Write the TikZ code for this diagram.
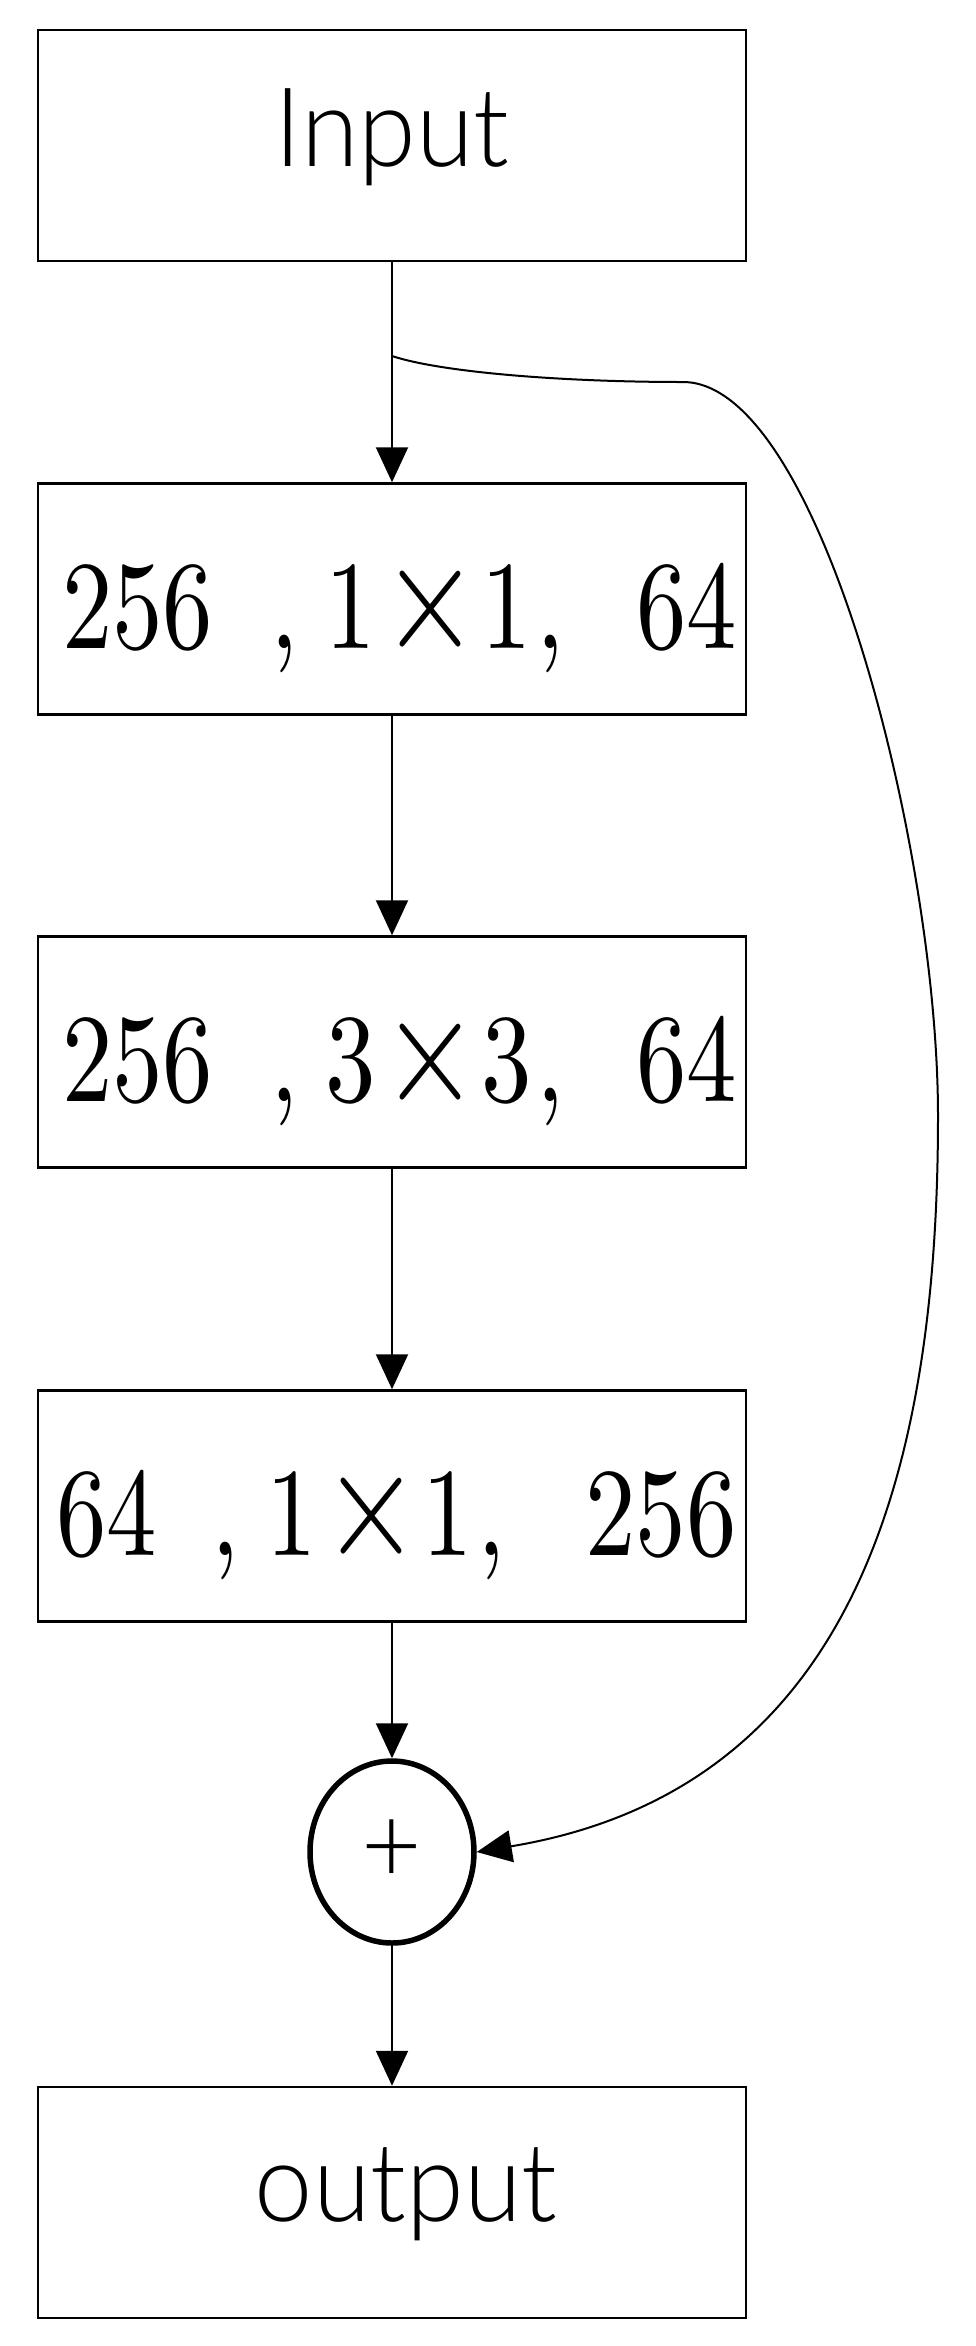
\documentclass[tikz,border=0pt]{standalone}
\usepackage{fontspec}
\usepackage{graphicx}
\usetikzlibrary{arrows.meta,shapes.geometric}
\newfontfamily\labfont[FakeStretch=0.95]{Lato Light}
\newfontfamily\numfont[Extension=.otf, FakeStretch=0.8]{lmroman10-regular}
\newcommand\bigx{\scalebox{1.25}{×}}
\tikzset{
  box/.style={draw, line width=2.5pt, minimum width=708pt, minimum height=231pt, inner sep=0pt},
  lab/.style={font=\labfont\fontsize{110pt}{110pt}\selectfont},
  num/.style={font=\numfont\fontsize{126pt}{126pt}\selectfont, text height=98pt, text depth=0pt},
  conn/.style={line width=2pt, -{Triangle[length=35pt,width=32pt]}},
  sumnode/.style={draw, ellipse, line width=5.5pt, minimum width=164pt, minimum height=182pt, inner sep=0pt}
}
\begin{document}
\begin{tikzpicture}[x=1pt,y=-1pt]
\useasboundingbox[fill=white] (0,0) rectangle (975,2346);
\node[box, lab, text height=79pt, text depth=37pt] (in) at (392,145.5) {Input};
\node[box, num] (b1) at (392,599) {\hspace{15pt}256\hspace{57pt},\hspace{27pt}1\hspace{6pt}\bigx\hspace{2pt}1\hspace{4pt},\hspace{72pt}64};
\node[box, num] (b2) at (392,1052) {\hspace{15pt}256\hspace{57pt},\hspace{27pt}3\hspace{6pt}\bigx\hspace{2pt}3\hspace{4pt},\hspace{72pt}64};
\node[box, num] (b3) at (392,1506) {\hspace{9pt}64\hspace{54pt},\hspace{27pt}1\hspace{6pt}\bigx\hspace{2pt}1\hspace{4pt},\hspace{80pt}256};
\node[sumnode, lab] (plus) at (392,1852) {+};
\node[box, lab, text height=79pt, text depth=42pt] (out) at (392,2202.5) {\hspace{28pt}output};
\coordinate (split) at (392,356);
\draw[conn] (in.south) -- (b1.north);
\draw[conn] (b1.south) -- (b2.north);
\draw[conn] (b2.south) -- (b3.north);
\draw[conn] (b3.south) -- (plus.north);
\draw[conn] (plus.south) -- (out.north);
\draw[conn] (split) .. controls (440,372) and (560,382) .. (683,382)
  .. controls (820,382) and (938,850) .. (938,1116)
  .. controls (938,1480) and (850,1790) .. (plus.east);
\end{tikzpicture}
\end{document}
